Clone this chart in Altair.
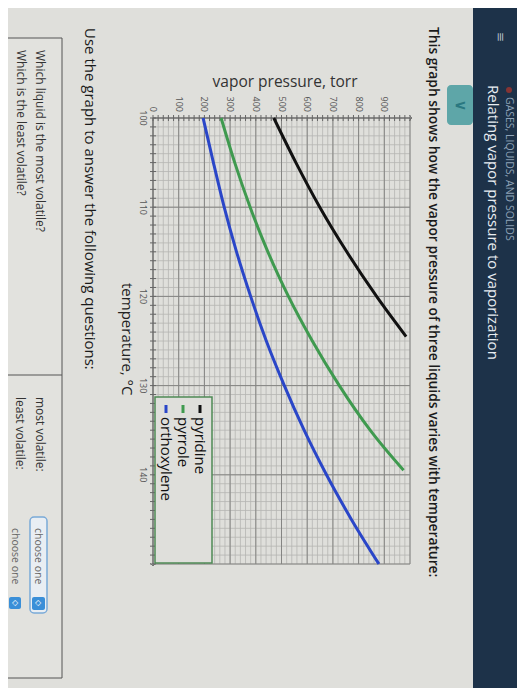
import altair as alt
import pandas as pd

# ---------------- data ----------------
liquids = ["pyridine", "pyrrole", "orthoxylene"]
liquid_colors = ["#111111", "#3f9a4f", "#2a46c8"]

t_pyridine = [100, 105, 110, 115, 120, 124.5]
p_pyridine = [470, 556, 649, 754, 870, 985]

t_pyrrole = [100, 105, 110, 115, 120, 125, 130, 135, 139.5]
p_pyrrole = [265, 318, 378, 447, 527, 620, 725, 845, 975]

t_oxylene = [100, 105, 110, 115, 120, 125, 130, 135, 140, 145, 150]
p_oxylene = [195, 235, 277, 325, 380, 441, 511, 588, 675, 772, 879]

pressure_labels = [0, 100, 200, 300, 400, 500, 600, 700, 800, 900]
temperature_labels = [100, 110, 120, 130, 140]
pressure_minor = list(range(0, 1001, 20))
pressure_major = list(range(0, 1001, 100))
temperature_minor = list(range(100, 151, 1))
temperature_major = list(range(100, 151, 10))

# ---------------- layout constants ----------------
W, H = 257, 446          # plot area
OX, OY = 153, 118        # plot origin in page pixels
BG = "#dfdfdb"
FONT = "Open Sans"

rows = []
for name, ts, ps in [("pyridine", t_pyridine, p_pyridine),
                     ("pyrrole", t_pyrrole, p_pyrrole),
                     ("orthoxylene", t_oxylene, p_oxylene)]:
    for t, p in zip(ts, ps):
        rows.append({"liquid": name, "temperature": t, "pressure": p})
curves = pd.DataFrame(rows)

xs = alt.Scale(domain=[0, 1000], nice=False, zero=False)
ys = alt.Scale(domain=[100, 150], nice=False, zero=False, reverse=True)


def X(field):
    return alt.X(field, type="quantitative", scale=xs, axis=None)


def Y(field):
    return alt.Y(field, type="quantitative", scale=ys, axis=None)


def px(x):
    return alt.value(x - OX)


def py(y):
    return alt.value(y - OY)


def text(s, x, y, size, color, angle=90, weight="normal", align="left",
         baseline="middle"):
    return alt.Chart(pd.DataFrame({"s": [s]})).mark_text(
        font=FONT, fontSize=size, color=color, angle=angle,
        fontWeight=weight, align=align, baseline=baseline
    ).encode(text="s:N", x=px(x), y=py(y))


def box(x1, x2, y1, y2, fill, stroke=None, sw=1, radius=0):
    kw = dict(fill=fill, cornerRadius=radius)
    if stroke:
        kw.update(stroke=stroke, strokeWidth=sw)
    else:
        kw.update(strokeWidth=0)
    return alt.Chart(pd.DataFrame({"a": [0]})).mark_rect(**kw).encode(
        x=px(x1), x2=px(x2), y=py(y1), y2=py(y2))


layers = []

# grid
layers.append(alt.Chart(pd.DataFrame({"p": pressure_minor})).mark_rule(
    color="#b5b5b2", strokeWidth=0.8).encode(x=X("p"), y=alt.value(0), y2=alt.value(H)))
layers.append(alt.Chart(pd.DataFrame({"t": temperature_minor})).mark_rule(
    color="#b5b5b2", strokeWidth=0.8).encode(y=Y("t"), x=alt.value(0), x2=alt.value(W)))
layers.append(alt.Chart(pd.DataFrame({"p": pressure_major})).mark_rule(
    color="#858583", strokeWidth=1).encode(x=X("p"), y=alt.value(0), y2=alt.value(H)))
layers.append(alt.Chart(pd.DataFrame({"t": temperature_major})).mark_rule(
    color="#858583", strokeWidth=1).encode(y=Y("t"), x=alt.value(0), x2=alt.value(W)))

# axis lines, ticks and arrows
layers.append(alt.Chart(pd.DataFrame({"a": [0]})).mark_rule(
    color="#666666", strokeWidth=1).encode(x=alt.value(0), x2=alt.value(W + 2), y=alt.value(0)))
layers.append(alt.Chart(pd.DataFrame({"a": [0]})).mark_rule(
    color="#666666", strokeWidth=1).encode(y=alt.value(0), y2=alt.value(H + 2), x=alt.value(0)))
layers.append(alt.Chart(pd.DataFrame({"p": pressure_minor})).mark_rule(
    color="#666666", strokeWidth=1).encode(x=X("p"), y=alt.value(-3), y2=alt.value(3)))
layers.append(alt.Chart(pd.DataFrame({"t": temperature_minor})).mark_rule(
    color="#666666", strokeWidth=1).encode(y=Y("t"), x=alt.value(-3), x2=alt.value(3)))
layers.append(alt.Chart(pd.DataFrame({"a": [0]})).mark_point(
    shape="M-1,-1L0,0L-1,1", filled=False, color="#666666", size=30, strokeWidth=1
).encode(x=alt.value(W + 2), y=alt.value(0)))
layers.append(alt.Chart(pd.DataFrame({"a": [0]})).mark_point(
    shape="M-1,-1L0,0L1,-1", filled=False, color="#666666", size=30, strokeWidth=1
).encode(x=alt.value(0), y=alt.value(H + 2)))

# tick labels
layers.append(alt.Chart(pd.DataFrame({"p": pressure_labels})).mark_text(
    font=FONT, fontSize=9, color="#555555", angle=90, align="right", baseline="middle"
).encode(x=X("p"), y=alt.value(-6), text=alt.Text("p:Q", format="d")))
layers.append(alt.Chart(pd.DataFrame({"t": temperature_labels})).mark_text(
    font=FONT, fontSize=9, color="#555555", angle=90, align="center", baseline="top"
).encode(y=Y("t"), x=alt.value(-6), text=alt.Text("t:Q", format="d")))

# curves
layers.append(alt.Chart(curves).mark_line(strokeWidth=3, interpolate="monotone").encode(
    x=X("pressure"), y=Y("temperature"), order="temperature:Q",
    color=alt.Color("liquid:N", scale=alt.Scale(domain=liquids, range=liquid_colors),
                    legend=None)))

# legend box
layers.append(box(155, 212, 397, 563, BG, stroke="#4f8a55", sw=1.5))
for name, col, lx in zip(liquids, liquid_colors, [200, 183, 166]):
    layers.append(alt.Chart(pd.DataFrame({"a": [0]})).mark_rule(
        color=col, strokeWidth=3).encode(x=px(lx), y=py(405), y2=py(413)))
    layers.append(text(name, lx, 417, 15, "#111111"))

# axis titles
layers.append(text("vapor pressure, torr", 285, 82, 15.5, "#333333", angle=0, align="center"))
layers.append(text("temperature, °C", 127, 283, 15, "#222222"))

# page decorations: header bar, tab, title
layers.append(box(473, 530, -10, 710, "#1d3249"))
layers.append(box(447, 473, 85, 125, "#5ea6a8", radius=4))
layers.append(text("∨", 461, 105, 15, "#2a7880", align="center", weight="bold"))
layers.append(text("≡", 500, 37, 16, "#c9d1d9", align="center"))
layers.append(alt.Chart(pd.DataFrame({"a": [0]})).mark_point(
    filled=True, color="#b3352b", size=36).encode(x=px(509), y=py(90)))
layers.append(text("GASES, LIQUIDS, AND SOLIDS", 509, 97, 10.5, "#8fa3b8"))
layers.append(text("Relating vapor pressure to vaporization", 493, 85, 15, "#e8edf2"))
layers.append(text("This graph shows how the vapor pressure of three liquids varies with temperature:",
                   433, 27, 13.8, "#1a1a1a", weight=600))
layers.append(text("Use the graph to answer the following questions:", 90, 28, 15, "#1a1a1a"))

# question box
layers.append(box(-10, 62, 38, 678, "#e2e2de", stroke="#555555", sw=1))
layers.append(alt.Chart(pd.DataFrame({"a": [0]})).mark_rule(
    color="#555555", strokeWidth=1).encode(x=px(-10), x2=px(62), y=py(375)))
layers.append(text("Which liquid is the most volatile?", 40, 50, 12, "#333333"))
layers.append(text("Which is the least volatile?", 21, 50, 12, "#333333"))
layers.append(text("most volatile:", 40, 397, 12, "#333333"))
layers.append(text("least volatile:", 20, 397, 12, "#333333"))
layers.append(box(30, 47, 517, 613, "#e9eef3", stroke="#7aaad8", sw=1.5, radius=4))
layers.append(text("choose one", 38, 528, 10.5, "#666666"))
layers.append(box(32, 45, 597, 610, "#3a8fd8", radius=2))
layers.append(text("◇", 38, 603, 8, "#ffffff", align="center"))
layers.append(text("choose one", 15, 528, 10.5, "#666666"))
layers.append(box(9, 21, 597, 609, "#3a8fd8", radius=2))
layers.append(text("◇", 15, 603, 8, "#ffffff", align="center"))

TOTAL_W, TOTAL_H = 509, 680
chart = alt.layer(*layers).properties(
    width=W, height=H,
    padding={"left": OX - 8, "top": OY - 8,
             "right": TOTAL_W - (OX - 8) - W, "bottom": TOTAL_H - (OY - 8) - H},
    autosize=alt.AutoSizeParams(type="none"),
    background=BG,
).configure_view(stroke=None)

chart.save("out.html", embed_options={"renderer": "svg", "actions": False})
